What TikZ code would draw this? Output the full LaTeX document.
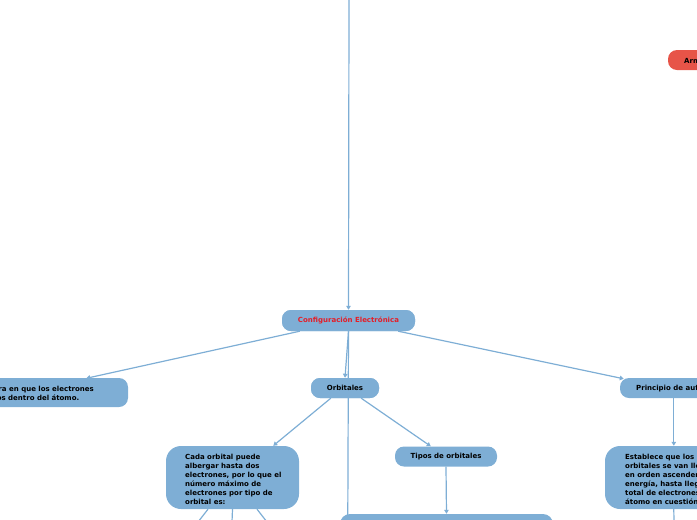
\documentclass[tikz,border=0pt]{standalone}
\usepackage{fontspec}
\setmainfont{DejaVu Sans}
\usetikzlibrary{arrows.meta,calc}
\definecolor{boxblue}{RGB}{126,174,213}
\definecolor{lineblue}{RGB}{126,174,213}
\definecolor{boxred}{RGB}{231,84,72}
\definecolor{txtred}{RGB}{228,30,40}
\begin{document}
\begin{tikzpicture}[x=1pt,y=-1pt,
  conn/.style={draw=lineblue,line width=1.2pt},
  arr/.style={conn,-{Triangle[length=4pt,width=4.5pt]}},
  box/.style={fill=boxblue,draw=none,rounded corners=9pt,inner sep=0pt},
  tall/.style={box,rounded corners=15pt},
  redbox/.style={fill=boxred,draw=none,rounded corners=9pt,inner sep=0pt},
  lbl/.style={font=\fontsize{7}{9}\selectfont\bfseries,inner sep=0pt,align=left,text=black}]
\useasboundingbox (0,0) rectangle (697,520);
\clip (0,0) rectangle (697,520);
% boxes (positions)
\coordinate (top) at (349,0);
\node[box,minimum width=133pt,minimum height=21pt] (config) at (348.5,320.5) {};
\node[box,minimum width=308pt,minimum height=29pt] (leftbox) at (-26,392.5) {};
\node[box,minimum width=68pt,minimum height=20pt] (orb) at (345,388) {};
\node[box,minimum width=140pt,minimum height=20pt] (princ) at (690,388) {};
\node[tall,minimum width=133pt,minimum height=63pt] (cada) at (232.5,477.5) {};
\node[box,minimum width=102pt,minimum height=20pt,lbl] (tipos) at (446,456.5) {Tipos de orbitales};
\node[box,rounded corners=10pt,minimum width=213pt,minimum height=30pt] (bottom) at (446.5,529) {};
\node[tall,minimum width=155pt,minimum height=63pt] (estab) at (682.5,477.5) {};
\node[redbox,minimum width=92pt,minimum height=20pt] (armbox) at (714,60) {};
% connector end points
\coordinate (c1) at (198,522);
\coordinate (c2) at (232,522);
\coordinate (c3) at (267,522);
\coordinate (c4) at (674,522);
% connectors
\draw[arr] (top) -- (config.north);
\draw[arr] ($(config.south west)+(18,0)$) -- ($(leftbox.north east)+(-42,0.5)$);
\draw[conn] (config.south) -- ($(bottom.north west)+(8,1)$);
\draw[arr] (config.south) -- (orb.north);
\draw[arr] ($(config.south east)+(-17,0)$) -- ($(princ.north west)+(4,1)$);
\draw[arr] ($(orb.south west)+(20,0)$) -- ($(cada.north east)+(-26,0)$);
\draw[arr] ($(orb.south east)+(-18,0)$) -- ($(tipos.north west)+(36,0)$);
\draw[arr] (tipos.south) -- (bottom.north);
\draw[conn] ($(cada.south)+(-24.5,0)$) -- (c1);
\draw[conn] (cada.south) -- (c2);
\draw[conn] ($(cada.south)+(24.5,0)$) -- (c3);
\draw[arr] ($(princ.south west)+(54,0)$) -- ($(estab.north west)+(69,0)$);
\draw[conn] ($(estab.south west)+(69,0)$) -- (c4);
% boxes drawn over the lines that pass through them
\node[box,minimum width=133pt,minimum height=21pt,lbl,text=txtred] (configtext) at (config) {Configuración Electrónica};
\node[box,minimum width=68pt,minimum height=20pt,lbl] (orbtext) at (orb) {Orbitales};
% texts
\node[lbl,anchor=north east] (lefttext) at (94,385.5) {Es la manera en que los electrones\\son situados dentro del átomo.};
\node[lbl,anchor=west] (princtext) at (636,388.5) {Principio de aufbau};
\node[lbl,anchor=north west] (cadatext) at (185,453.5) {Cada orbital puede\\albergar hasta dos\\electrones, por lo que el\\número máximo de\\electrones por tipo de\\orbital es:};
\node[lbl,anchor=north west] (estabtext) at (625,453.5) {Establece que los\\orbitales se van llenando\\en orden ascendente de\\energía, hasta llegar al\\total de electrones del\\átomo en cuestión};
\node[lbl,anchor=west] (armtext) at (684,60.5) {Arm};
\end{tikzpicture}
\end{document}
